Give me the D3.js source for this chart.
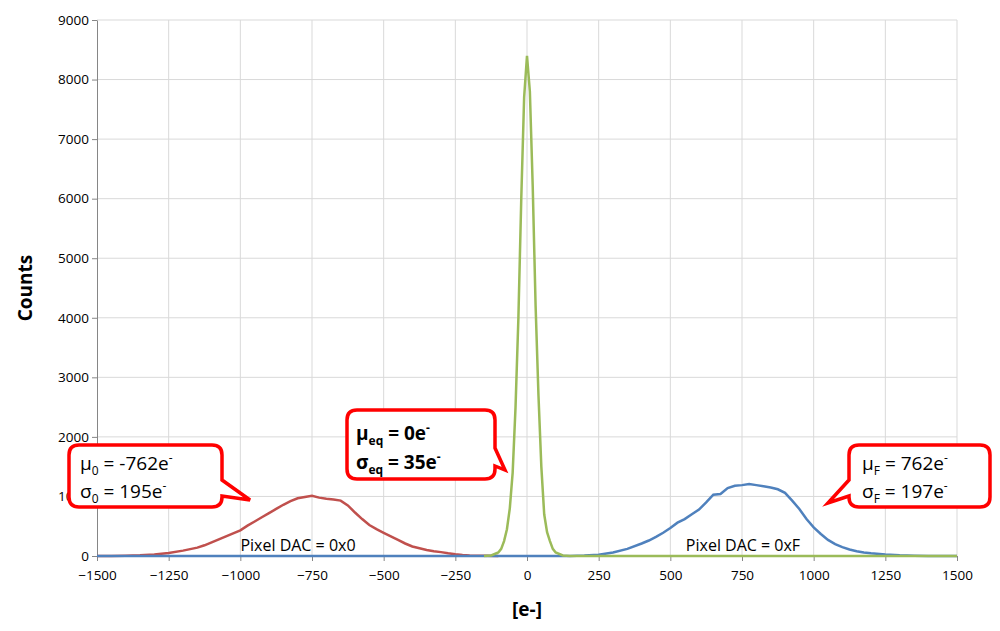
<!DOCTYPE html>
<html>
<head>
<meta charset="utf-8">
<script src="https://cdn.jsdelivr.net/npm/d3@7"></script>
<style>body{margin:0;background:#fff}text{font-family:"Open Sans",sans-serif}</style>
</head>
<body>
<svg width="1000" height="631"></svg>
<script>
var redX = [-1500,-1450,-1400,-1350,-1300,-1250,-1200,-1150,-1125,-1100,-1075,-1050,-1025,-1000,-975,-950,-925,-900,-875,-850,-825,-800,-775,-750,-725,-700,-675,-650,-625,-600,-575,-550,-525,-500,-475,-450,-425,-400,-375,-350,-325,-300,-275,-250,-225,-200,-150,-100];
var redY = [0,2,5,12,25,50,90,140,180,230,280,330,380,430,510,580,650,720,790,860,920,970,990,1010,980,960,950,930,850,730,620,520,450,390,330,270,210,160,130,100,80,65,45,30,18,10,3,0];
var blueX = [-1500,100,150,200,250,300,350,400,425,450,475,500,525,550,575,600,625,650,675,700,725,750,775,800,825,850,875,900,925,950,975,1000,1025,1050,1075,1100,1125,1150,1175,1200,1250,1300,1350,1400,1450,1500];
var blueY = [0,0,2,8,20,60,120,210,260,320,390,470,560,620,700,780,900,1030,1040,1140,1180,1190,1210,1190,1170,1150,1120,1060,930,790,620,480,370,270,200,150,110,80,60,45,25,12,5,2,0,0];
var greenX = [-150,-125,-100,-90,-80,-70,-60,-50,-40,-30,-20,-10,0,10,20,30,40,50,60,70,80,90,100,125,150,1500];
var greenY = [0,10,60,120,250,450,800,1400,2500,4000,6000,7700,8400,7800,6200,4200,2700,1500,700,400,250,120,60,10,0,0];
var xTicks = [-1500,-1250,-1000,-750,-500,-250,0,250,500,750,1000,1250,1500];
var yTicks = [0,1000,2000,3000,4000,5000,6000,7000,8000,9000];

var svg = d3.select("svg");
var x = d3.scaleLinear().domain([-1500,1500]).range([97,957]);
var y = d3.scaleLinear().domain([0,9000]).range([556,20]);

// grid
svg.append("g").selectAll("line").data(xTicks.slice(1)).enter().append("line")
    .attr("x1", d => x(d)).attr("x2", d => x(d)).attr("y1", 20).attr("y2", 556)
    .attr("stroke", "#d9d9d9");
svg.append("g").selectAll("line").data(yTicks.slice(1)).enter().append("line")
    .attr("x1", 97).attr("x2", 957).attr("y1", d => y(d)).attr("y2", d => y(d))
    .attr("stroke", "#d9d9d9");

var xa = svg.append("g").attr("transform", "translate(0,556)")
    .call(d3.axisBottom(x).tickValues(xTicks).tickSize(5).tickSizeOuter(0).tickFormat(d3.format("d")));
var ya = svg.append("g").attr("transform", "translate(97,0)")
    .call(d3.axisLeft(y).tickValues(yTicks).tickSize(5).tickSizeOuter(0).tickFormat(d3.format("d")));
[xa, ya].forEach(function(a) {
    a.selectAll("path,line").attr("stroke", "#868686");
    a.selectAll("text").attr("font-size", "13.5px").attr("fill", "#000").style("font-family", "Open Sans");
});
xa.selectAll("text").attr("dy", "1.2em");

var line = d3.line().x(d => x(d[0])).y(d => y(d[1]));
[[redX, redY, "#C0504D"], [blueX, blueY, "#4F81BD"], [greenX, greenY, "#9BBB59"]].forEach(function(s) {
    svg.append("path").datum(d3.zip(s[0], s[1]))
        .attr("d", line).attr("fill", "none").attr("stroke", s[2]).attr("stroke-width", 2.5);
});

svg.append("text").attr("transform", "translate(32,288) rotate(-90)").attr("text-anchor", "middle")
    .attr("font-size", "19px").attr("font-weight", "bold").text("Counts");
svg.append("text").attr("x", 527).attr("y", 616).attr("text-anchor", "middle")
    .attr("font-size", "19px").attr("font-weight", "bold").text("[e-]");

svg.append("text").attr("x", 298).attr("y", 551).attr("text-anchor", "middle").attr("font-size", "16px").text("Pixel DAC = 0x0");
svg.append("text").attr("x", 743).attr("y", 551).attr("text-anchor", "middle").attr("font-size", "16px").text("Pixel DAC = 0xF");

function callout(x0, y0, w, h, side, w1, w2, tx, ty) {
    var r = 10, x1 = x0 + w, y1 = y0 + h, p = "M" + (x0 + r) + "," + y0 + "H" + (x1 - r) + "Q" + x1 + "," + y0 + " " + x1 + "," + (y0 + r);
    if (side === "right") p += "V" + w1 + "L" + tx + "," + ty + "L" + x1 + "," + w2;
    p += "V" + (y1 - r) + "Q" + x1 + "," + y1 + " " + (x1 - r) + "," + y1 + "H" + (x0 + r) + "Q" + x0 + "," + y1 + " " + x0 + "," + (y1 - r);
    if (side === "left") p += "V" + w2 + "L" + tx + "," + ty + "L" + x0 + "," + w1;
    p += "V" + (y0 + r) + "Q" + x0 + "," + y0 + " " + (x0 + r) + "," + y0 + "Z";
    svg.append("path").attr("d", p).attr("fill", "#fff").attr("stroke", "#ff0000").attr("stroke-width", 3.5);
}
function label(x0, y0, sym, sub, rest, bold) {
    var t = svg.append("text").attr("x", x0).attr("y", y0).attr("font-size", "19px").attr("font-weight", bold ? "bold" : "normal");
    t.append("tspan").text(sym);
    t.append("tspan").attr("font-size", "12px").attr("dy", 5).text(sub);
    t.append("tspan").attr("dy", -5).text(rest);
    t.append("tspan").attr("font-size", "12px").attr("dy", -8).text("-");
}
callout(69, 445, 153, 62, "right", 480, 496, 250, 500);
callout(347, 410, 148, 69, "right", 448, 466, 505, 470);
callout(849, 445, 141, 62, "left", 480, 496, 828, 503);
label(80, 470, "μ", "0", " = -762e", false);
label(80, 498, "σ", "0", " = 195e", false);
label(356, 440, "μ", "eq", " = 0e", true);
label(356, 469, "σ", "eq", " = 35e", true);
label(862, 470, "μ", "F", " = 762e", false);
label(862, 498, "σ", "F", " = 197e", false);
</script>
</body>
</html>
